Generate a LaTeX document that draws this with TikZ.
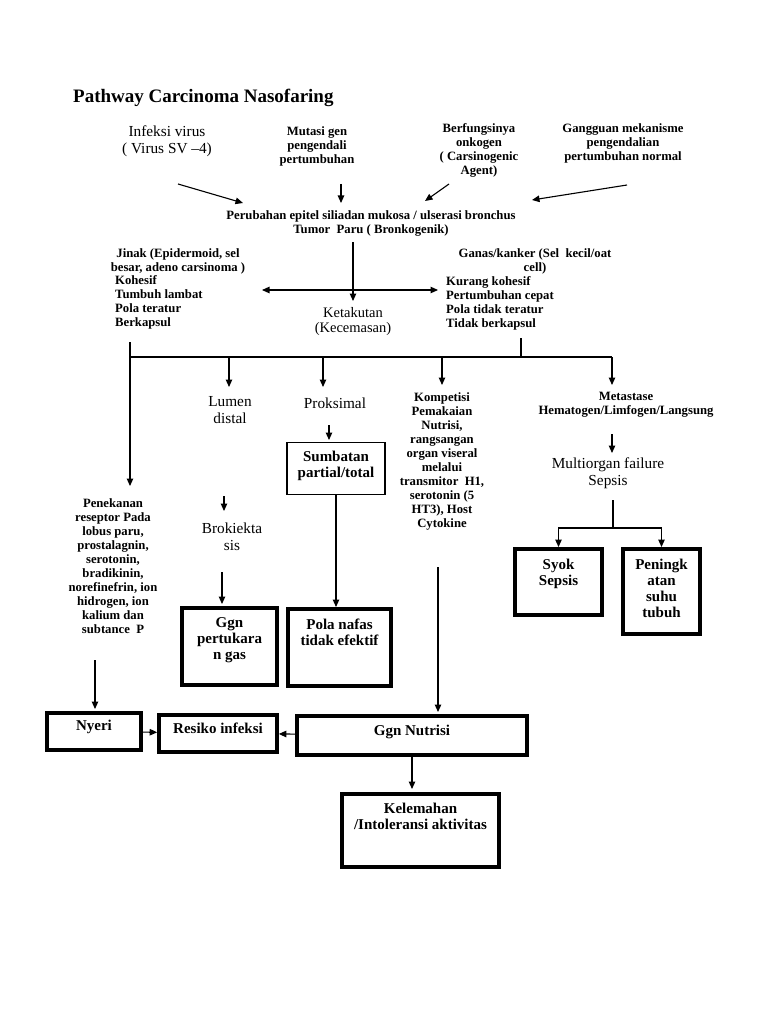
\documentclass[tikz,border=0pt]{standalone}
\usepackage{fontspec}
\setmainfont{Liberation Serif}
\usetikzlibrary{arrows.meta}
\tikzset{
    teks/.style={inner sep=0pt, align=center} }
\tikzset{
    kotak/.style={draw, line width=3.6pt, inner sep=0pt, anchor=north},
    kotaktipis/.style={draw, line width=1.2pt, inner sep=0pt, anchor=north} }
\tikzset{
    panah/.style={->, line width=1.1pt},
    garis/.style={line width=1.1pt} }
\newcommand{\kecil}{\fontsize{12.7}{14}\selectfont\bfseries}
\newcommand{\besar}{\fontsize{15.3}{17}\selectfont}
\newcommand{\isikotak}[4][9pt]{\parbox[t][#3][t]{#2}{\centering\fontsize{15}{16}\selectfont\bfseries\vspace*{#1}#4}}

\begin{document}
\begin{tikzpicture}[x=1pt,y=-1pt,>={Triangle[length=7.5pt,width=6.5pt]}]
\useasboundingbox (0,0) rectangle (768,1024);

  \node [teks,anchor=west,font=\fontsize{19}{22}\selectfont\bfseries] (judul) at (73,98) {Pathway Carcinoma Nasofaring};

% penyebab
  \node [teks,font=\besar] (infeksi) at (167,141.5) {Infeksi virus\\( Virus SV –4)};
  \node [teks,font=\kecil] (mutasi) at (317,146) {Mutasi gen\\pengendali\\pertumbuhan};
  \node [teks,font=\kecil] (berfungsi) at (479,150) {Berfungsinya\\onkogen\\( Carsinogenic\\Agent)};
  \node [teks,font=\kecil] (gangguan) at (623,143) {Gangguan mekanisme\\pengendalian\\pertumbuhan normal};
  \node [teks,font=\kecil] (perubahan) at (371,223) {Perubahan epitel siliadan mukosa / ulserasi bronchus\\Tumor\ \ Paru ( Bronkogenik)};
  \coordinate (a1) at (178,184); \coordinate (b1) at (243,203);
  \coordinate (a2) at (341,184); \coordinate (b2) at (341,203);
  \coordinate (a3) at (449,184); \coordinate (b3) at (425,201);
  \coordinate (a4) at (627,185); \coordinate (b4) at (532,200);
    \draw [panah] (a1) -- (b1); \draw [panah] (a2) -- (b2);
    \draw [panah] (a3) -- (b3); \draw [panah] (a4) -- (b4);

% jinak / ganas
  \node [teks,font=\kecil] (jinak) at (178,261.5) {Jinak (Epidermoid, sel\\besar, adeno carsinoma )};
  \node [teks,font=\kecil,anchor=west,align=left] (jinakciri) at (115,302.5) {Kohesif\\Tumbuh lambat\\Pola teratur\\Berkapsul};
  \node [teks,font=\kecil] (ganas) at (535,261.5) {Ganas/kanker (Sel\ \ kecil/oat\\cell)};
  \node [teks,font=\kecil,anchor=west,align=left] (ganasciri) at (446,303) {Kurang kohesif\\Pertumbuhan cepat\\Pola tidak teratur\\Tidak berkapsul};
  \node [teks,font=\fontsize{14.5}{15}\selectfont] (ketakutan) at (353,321.5) {Ketakutan\\(Kecemasan)};
  \coordinate (tengah) at (353,242); \coordinate (tengahb) at (353,301);
  \coordinate (kiri) at (262,290); \coordinate (kanan) at (438,290);
    \draw [panah] (tengah) -- (tengahb); \draw [panah,<->] (kiri) -- (kanan);

% cabang
  \coordinate (ganasb) at (521,338); \coordinate (simpang) at (521,357);
  \coordinate (barkiri) at (130,357); \coordinate (barkanan) at (612,357);
  \coordinate (kiriatas) at (130,342); \coordinate (kiribawah) at (130,486);
    \draw [garis] (ganasb) -- (simpang); \draw [garis] (barkiri) -- (barkanan);
    \draw [panah] (kiriatas) -- (kiribawah);
  \coordinate (c1) at (229,357); \coordinate (d1) at (229,387);
  \coordinate (c2) at (323,357); \coordinate (d2) at (323,387);
  \coordinate (c3) at (442,357); \coordinate (d3) at (442,385);
  \coordinate (c4) at (612,357); \coordinate (d4) at (612,385);
    \draw [panah] (c1) -- (d1); \draw [panah] (c2) -- (d2);
    \draw [panah] (c3) -- (d3); \draw [panah] (c4) -- (d4);

  \node [teks,font=\besar] (lumen) at (230,410) {Lumen\\distal};
  \node [teks,font=\besar] (proksimal) at (335,403) {Proksimal};
  \node [teks,font=\kecil] (kompetisi) at (442,461.5) {Kompetisi\\Pemakaian\\Nutrisi,\\rangsangan\\organ viseral\\melalui\\transmitor\ \ H1,\\serotonin (5\\HT3), Host\\Cytokine};
  \node [teks,font=\kecil] (metastase) at (626,405) {Metastase\\Hematogen/Limfogen/Langsung};
  \node [teks,font=\besar] (multiorgan) at (608,473.5) {Multiorgan failure\\Sepsis};
  \node [teks,font=\besar] (brokiekta) at (232,536.5) {Brokiekta\\sis};
  \node [teks,font=\kecil] (penekanan) at (113,566) {Penekanan\\reseptor Pada\\lobus paru,\\prostalagnin,\\serotonin,\\bradikinin,\\norefinefrin, ion\\hidrogen, ion\\kalium dan\\subtance\ \ P};

% kotak masalah
  \node [kotaktipis] (sumbatan) at (336,442) {\isikotak[8pt]{98pt}{52pt}{Sumbatan\\partial/total}};
  \node [kotak] (ggnpertukaran) at (229.5,606) {\isikotak[10pt]{95pt}{77pt}{Ggn\\pertukara\\n gas}};
  \node [kotak] (polanafas) at (339.5,607) {\isikotak[10pt]{103pt}{77pt}{Pola nafas\\tidak efektif}};
  \node [kotak] (syok) at (558.5,547) {\isikotak[10pt]{87pt}{66pt}{Syok\\Sepsis}};
  \node [kotak] (peningkatan) at (661.5,547) {\isikotak[10pt]{77pt}{85pt}{Peningk\\atan\\suhu\\tubuh}};
  \node [kotak] (nyeri) at (94,711) {\isikotak[7pt]{94pt}{37pt}{Nyeri}};
  \node [kotak] (resiko) at (218,713) {\isikotak[8pt]{118pt}{37pt}{Resiko infeksi}};
  \node [kotak] (ggnnutrisi) at (412,714) {\isikotak[9pt]{230pt}{39pt}{Ggn Nutrisi}};
  \node [kotak] (kelemahan) at (420.5,792) {\isikotak[9pt]{157pt}{73pt}{Kelemahan\\/Intoleransi aktivitas}};

  \coordinate (e1) at (329,425); \coordinate (f1) at (329,440);
  \coordinate (e2) at (224,496); \coordinate (f2) at (224,511);
  \coordinate (e3) at (222,572); \coordinate (f3) at (222,604);
  \coordinate (e4) at (612,434); \coordinate (f4) at (612,453);
  \coordinate (e5) at (613,500); \coordinate (cabang) at (613,528);
  \coordinate (e6) at (438,567); \coordinate (f6) at (438,712);
  \coordinate (e7) at (95,660); \coordinate (f7) at (95,709);
    \draw [panah] (e1) -- (f1); \draw [panah] (e2) -- (f2); \draw [panah] (e3) -- (f3);
    \draw [panah] (e4) -- (f4); \draw [garis] (e5) -- (cabang);
    \draw [panah] (cabang) -| (syok); \draw [panah] (cabang) -| (peningkatan);
    \draw [panah] (sumbatan.south) -- (sumbatan.south |- polanafas.north);
    \draw [panah] (e6) -- (f6); \draw [panah] (e7) -- (f7);
    \draw [panah] (nyeri) -- (resiko); \draw [panah] (ggnnutrisi) -- (resiko);
    \draw [panah,shorten >=3pt] (ggnnutrisi.south) -- (ggnnutrisi.south |- kelemahan.north);

\end{tikzpicture}
\end{document}
